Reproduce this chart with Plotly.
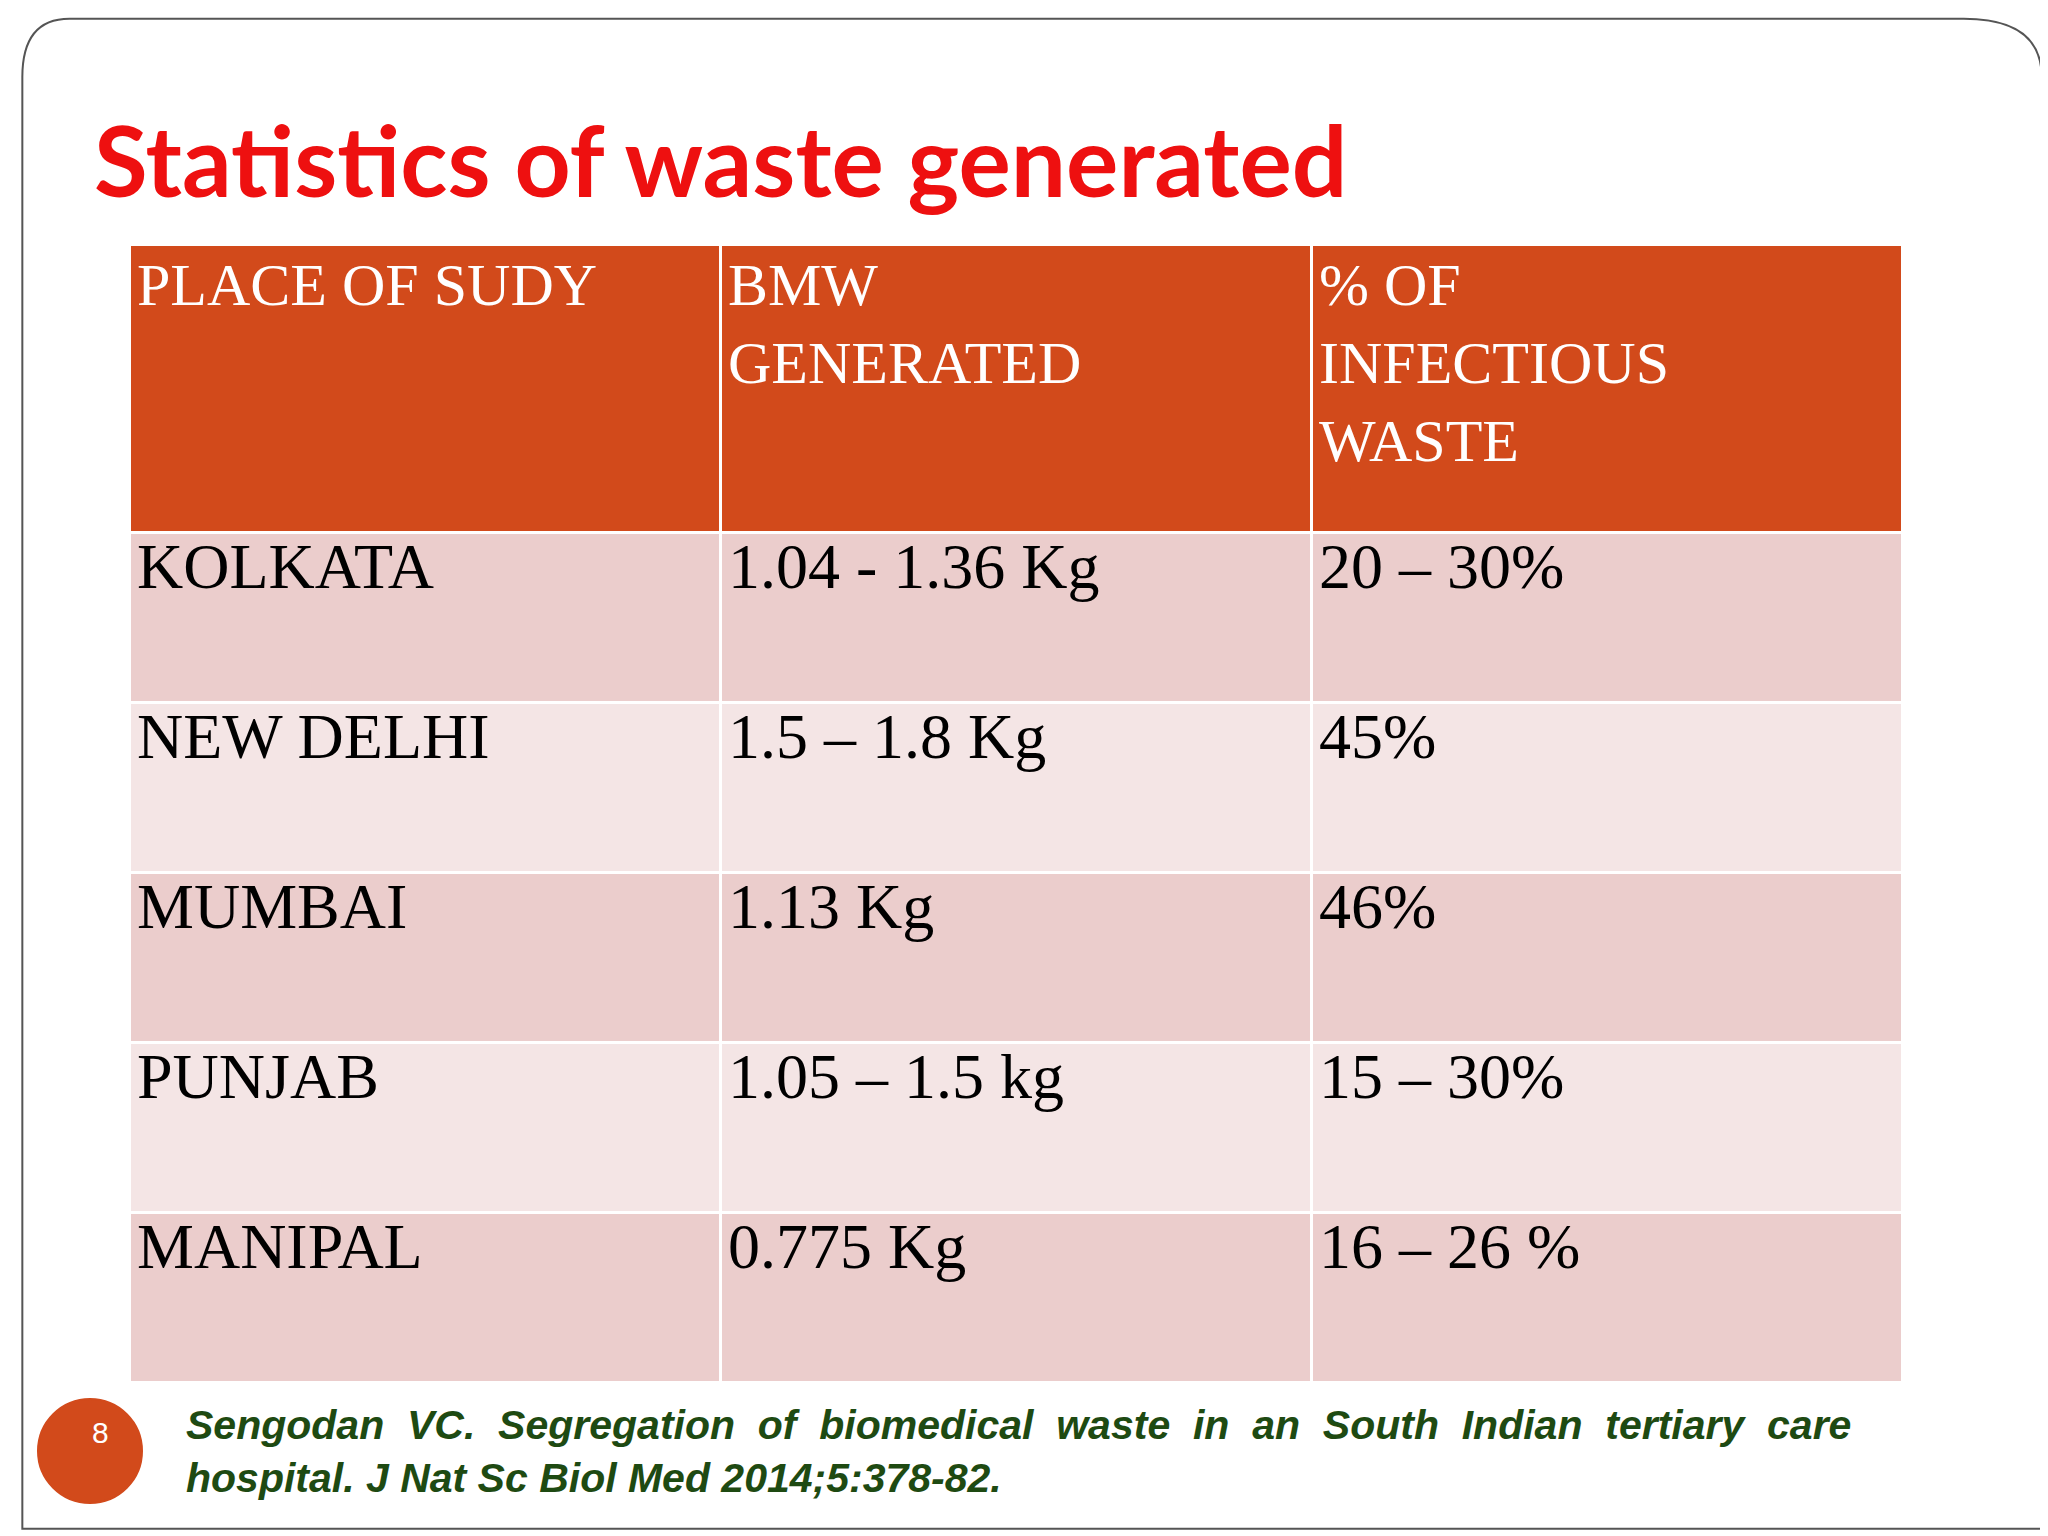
import plotly.graph_objects as go

headers = ["<br>PLACE OF SUDY", "BMW<br>GENERATED", "% OF<br>INFECTIOUS<br>WASTE"]
places = ["KOLKATA", "NEW DELHI", "MUMBAI", "PUNJAB", "MANIPAL"]
bmw = ["1.04 - 1.36 Kg", "1.5 – 1.8 Kg", "1.13 Kg", "1.05 – 1.5 kg", "0.775 Kg"]
infectious = ["20 – 30%", "45%", "46%", "15 – 30%", "16 – 26 %"]

row_colors = ["#EBCDCC" if i % 2 == 0 else "#F4E5E5" for i in range(len(places))]

fig = go.Figure()
fig.add_trace(go.Table(
    domain=dict(x=[121/2048, 1894/2048], y=[1-1376/1536, 1-236/1536]),
    columnwidth=[1, 1, 1],
    header=dict(values=headers, fill_color="#D24A1B",
                line=dict(color="white", width=3),
                font=dict(family="Liberation Serif", size=60, color="white"),
                align="left", height=288),
    cells=dict(values=[places, bmw, infectious],
               fill_color=[row_colors]*3,
               line=dict(color="white", width=3),
               font=dict(family="Liberation Serif", size=64, color="black"),
               align="left", height=170),
))

fig.add_shape(type="path", xref="paper", yref="paper",
              path="M 0.03,0.993 L 0.955,0.993 Q 0.993,0.993 0.993,0.955 L 0.993,0.01 L 0.007,0.01 L 0.007,0.955 Q 0.007,0.993 0.03,0.993 Z",
              line=dict(color="#555555", width=2))
fig.add_shape(type="circle", xref="paper", yref="paper",
              x0=30/2048, x1=134/2048, y0=1-1495/1536, y1=1-1391/1536,
              fillcolor="#D24A1B", line=dict(color="#D24A1B"))

fig.add_annotation(x=84/1536*0.75, y=1-90/1536, text="<b>Statistics of waste generated</b>",
                   xref="paper", yref="paper", xanchor="left", yanchor="top",
                   showarrow=False, font=dict(family="Lato", size=98, color="#EE1010"))
fig.add_annotation(x=82/2048, y=1-1443/1536, text="8", xref="paper", yref="paper",
                   showarrow=False, font=dict(family="Liberation Sans", size=30, color="white"))
fig.add_annotation(x=176/2048, y=1-1392/1536,
                   text="<b><i>Sengodan  VC.  Segregation  of  biomedical  waste  in  an  South  Indian  tertiary  care<br>hospital. J Nat Sc Biol Med 2014;5:378-82.</i></b>",
                   xref="paper", yref="paper", xanchor="left", yanchor="top", align="left",
                   showarrow=False, font=dict(family="Liberation Sans", size=41, color="#1E4A12"))

fig.update_layout(width=2048, height=1536, margin=dict(l=0, r=0, t=0, b=0),
                  paper_bgcolor="white", plot_bgcolor="white")
fig.write_html("out.html")
